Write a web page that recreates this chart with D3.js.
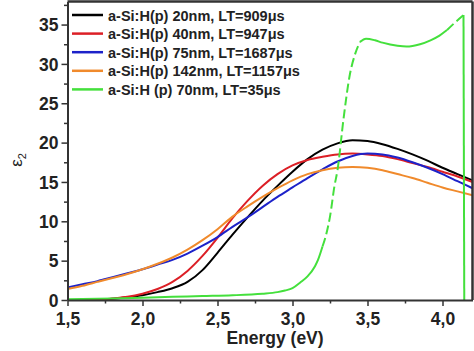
<!DOCTYPE html>
<html>
<head>
<meta charset="utf-8">
<script src="https://cdn.jsdelivr.net/npm/d3@7"></script>
<style>
  body { margin: 0; background: #fff; }
  svg { display: block; font-family: "Liberation Sans", Arial, sans-serif; }
</style>
</head>
<body>
<svg id="chart"></svg>
<script>
"use strict";

// photon energy grid (eV) shared by the four a-Si:H(p) curves
const energy = [1.5, 1.6, 1.7, 1.8, 1.9, 2.0, 2.1, 2.2, 2.3, 2.4, 2.5, 2.6, 2.7, 2.8,
  2.9, 3.0, 3.1, 3.2, 3.3, 3.4, 3.5, 3.6, 3.7, 3.8, 3.9, 4.0, 4.1, 4.2];

const eps20nm = [0.0, 0.0, 0.05, 0.15, 0.35, 0.6, 1.0, 1.5, 2.3, 3.8, 6.0, 8.3, 10.5, 12.6,
  14.5, 16.3, 17.9, 19.1, 19.9, 20.3, 20.2, 19.8, 19.2, 18.5, 17.7, 16.8, 16.0, 15.2];
const eps40nm = [0.0, 0.0, 0.05, 0.2, 0.4, 0.8, 1.4, 2.3, 3.7, 5.6, 7.9, 10.4, 12.6, 14.5,
  16.0, 17.1, 17.8, 18.2, 18.5, 18.6, 18.5, 18.3, 17.9, 17.4, 16.9, 16.3, 15.7, 15.0];
const eps75nm = [1.6, 2.0, 2.4, 2.9, 3.4, 3.9, 4.5, 5.1, 5.9, 6.9, 8.0, 9.3, 10.5, 11.8,
  13.1, 14.3, 15.5, 16.6, 17.6, 18.3, 18.6, 18.5, 18.1, 17.5, 16.8, 16.0, 15.1, 14.2];
const eps142nm = [1.4, 1.8, 2.3, 2.8, 3.3, 3.9, 4.6, 5.4, 6.4, 7.6, 9.0, 10.6, 11.9, 13.1,
  14.2, 15.2, 16.0, 16.5, 16.8, 16.9, 16.8, 16.5, 16.0, 15.5, 14.9, 14.3, 13.8, 13.3];

// a-Si:H (p) 70nm curve has its own energy grid
const energyGreen = [1.5, 1.8, 2.0, 2.2, 2.4, 2.6, 2.8, 2.9, 2.95, 3.0, 3.05, 3.1, 3.15, 3.17,
  3.2, 3.22, 3.25, 3.28, 3.3, 3.34, 3.38, 3.42, 3.45, 3.49, 3.55, 3.6, 3.7, 3.76, 3.85,
  3.92, 3.98, 4.03, 4.08, 4.14, 4.145];
const epsGreen = [0.1, 0.2, 0.3, 0.4, 0.5, 0.6, 0.8, 1.0, 1.2, 1.5, 2.2, 3.0, 4.3, 5.1,
  6.8, 8.0, 10.6, 14.5, 16.5, 23.0, 28.4, 31.4, 32.8, 33.2, 33.0, 32.7, 32.3, 32.2, 32.5,
  33.0, 33.6, 34.3, 35.2, 36.2, 0.0];
// energy ranges of the green curve and whether that stretch is dashed
const greenStretches = [
  { from: 1.5, to: 3.2, dashed: false },
  { from: 3.2, to: 3.45, dashed: true },
  { from: 3.45, to: 4.03, dashed: false },
  { from: 4.03, to: 4.14, dashed: true },
  { from: 4.14, to: 4.145, dashed: false }
];

const seriesNames = [
  "a-Si:H(p) 20nm, LT=909\u03bcs",
  "a-Si:H(p) 40nm, LT=947\u03bcs",
  "a-Si:H(p) 75nm, LT=1687\u03bcs",
  "a-Si:H(p) 142nm, LT=1157\u03bcs",
  "a-Si:H (p) 70nm, LT=35\u03bcs"
];
const seriesColors = ["#000000", "#dc1f26", "#1d22c9", "#f08a2c", "#44e03c"];

const xTicks = [1.5, 2.0, 2.5, 3.0, 3.5, 4.0];
const xMinor = [1.75, 2.25, 2.75, 3.25, 3.75];
const yTicks = [0, 5, 10, 15, 20, 25, 30, 35];
const yMinor = [2.5, 7.5, 12.5, 17.5, 22.5, 27.5, 32.5, 37.5];

const W = 474, H = 351;
const pLeft = 67.5, pRight = 472.5, pTop = 1.5, pBottom = 300;

const svg = d3.select("#chart").attr("width", W).attr("height", H);

const x = d3.scaleLinear().domain([1.5, 4.2]).range([pLeft, pRight]);
const y = d3.scaleLinear().domain([0, 37.93]).range([pBottom, pTop]);

const smooth = d3.line()
  .x(d => x(d[0]))
  .y(d => y(d[1]))
  .curve(d3.curveMonotoneX);
const straight = d3.line()
  .x(d => x(d[0]))
  .y(d => y(d[1]));

svg.append("clipPath").attr("id", "clip")
  .append("rect").attr("x", pLeft).attr("y", pTop)
  .attr("width", pRight - pLeft).attr("height", pBottom - pTop);
const curves = svg.append("g").attr("clip-path", "url(#clip)");

[eps20nm, eps40nm, eps75nm, eps142nm].forEach((vals, i) => {
  curves.append("path")
    .datum(energy.map((e, j) => [e, vals[j]]))
    .attr("d", smooth)
    .attr("fill", "none")
    .attr("stroke", seriesColors[i])
    .attr("stroke-width", 2);
});

// green curve, drawn stretch by stretch
const greenPts = energyGreen.map((e, j) => [e, epsGreen[j]]);
greenStretches.forEach(s => {
  const pts = greenPts.filter(p => p[0] >= s.from - 1e-9 && p[0] <= s.to + 1e-9);
  curves.append("path")
    .datum(pts)
    .attr("d", s.to - s.from < 0.01 ? straight : smooth)
    .attr("fill", "none")
    .attr("stroke", seriesColors[4])
    .attr("stroke-width", 2)
    .attr("stroke-dasharray", s.dashed ? "9,4" : null);
});

// axes
const xAxis = d3.axisBottom(x).tickValues(xTicks).tickSize(6).tickSizeOuter(0)
  .tickFormat(d => d3.format(".1f")(d).replace(".", ","));
const yAxis = d3.axisLeft(y).tickValues(yTicks).tickSize(6).tickSizeOuter(0);

const gx = svg.append("g").attr("transform", `translate(0,${pBottom})`).call(xAxis);
const gy = svg.append("g").attr("transform", `translate(${pLeft},0)`).call(yAxis);

svg.append("g").attr("transform", `translate(0,${pBottom})`)
  .call(d3.axisBottom(x).tickValues(xMinor).tickSize(3.5).tickFormat("").tickSizeOuter(0))
  .select(".domain").remove();
svg.append("g").attr("transform", `translate(${pLeft},0)`)
  .call(d3.axisLeft(y).tickValues(yMinor).tickSize(3.5).tickFormat("").tickSizeOuter(0))
  .select(".domain").remove();

svg.selectAll(".tick line").attr("stroke", "#333").attr("stroke-width", 1.5);
svg.selectAll(".domain").attr("stroke", "#333").attr("stroke-width", 2);

gx.selectAll(".tick text")
  .attr("font-size", 17.5).attr("font-weight", "bold").attr("fill", "#222")
  .attr("dy", null).attr("y", 25);
gy.selectAll(".tick text")
  .attr("font-size", 17.5).attr("font-weight", "bold").attr("fill", "#222")
  .attr("x", -9).attr("dy", "0.36em");

// frame top and right
svg.append("line").attr("x1", pLeft).attr("x2", pRight).attr("y1", pTop).attr("y2", pTop)
  .attr("stroke", "#333").attr("stroke-width", 2.5);
svg.append("line").attr("x1", pRight).attr("x2", pRight).attr("y1", pTop).attr("y2", pBottom)
  .attr("stroke", "#333").attr("stroke-width", 2.5);

// axis titles
svg.append("text")
  .attr("x", 275).attr("y", 344)
  .attr("text-anchor", "middle")
  .attr("font-size", 17.5).attr("font-weight", "bold").attr("fill", "#222")
  .text("Energy (eV)");

const yl = svg.append("text")
  .attr("transform", "translate(22,160) rotate(-90)")
  .attr("text-anchor", "middle")
  .attr("font-size", 17).attr("fill", "#222");
yl.append("tspan").text("\u03b5");
yl.append("tspan").attr("font-size", 11).attr("dy", 4).text("2");

// legend
const legend = svg.selectAll(".legend")
  .data(seriesNames)
  .enter()
  .append("g")
  .attr("class", "legend")
  .attr("transform", (d, i) => `translate(72,${15 + i * 18.6})`);

legend.append("line")
  .attr("x1", 0).attr("x2", 31)
  .attr("stroke", (d, i) => seriesColors[i])
  .attr("stroke-width", 2.5);

legend.append("text")
  .attr("x", 36).attr("y", 5.5)
  .attr("font-size", 14.5).attr("font-weight", "bold").attr("fill", "#222")
  .text(d => d);
</script>
</body>
</html>
